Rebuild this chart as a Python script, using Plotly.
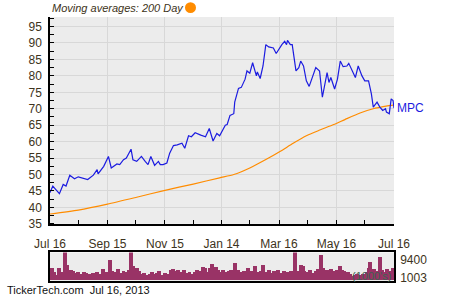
import pandas as pd
import plotly.graph_objects as go

START = pd.Timestamp("2012-07-16")

# Price (day offset from Jul 16 2012, close)
price_day = [0, 3, 6, 10, 14, 17, 21, 26, 30, 35, 40, 46, 50, 51, 57, 62, 65, 71, 74, 78, 81, 86, 88,
             92, 97, 101, 104, 107, 111, 115, 117, 120, 124, 127, 131, 135, 140, 143, 147, 150, 154,
             160, 165, 169, 173, 177, 180, 186, 188, 191, 195, 196, 200, 203, 207, 209, 212, 215,
             219, 220, 223, 226, 229, 232, 237, 240, 243, 246, 249, 251, 252, 255, 257, 261, 264,
             266, 269, 272, 275, 278, 282, 286, 289, 294, 296, 298, 302, 305, 308, 311, 315, 317,
             321, 324, 327, 331, 334, 338, 341, 343, 347, 350, 353, 356, 357, 360, 362, 364, 365]
price_val = [44.5, 46.5, 45.5, 44.2, 47.0, 46.5, 49.8, 48.7, 49.3, 48.8, 48.5, 49.8, 51.5, 50.2, 52.5,
             55.5, 52.0, 53.2, 53.0, 54.5, 55.0, 57.7, 54.5, 54.0, 55.5, 54.0, 53.0, 55.5, 52.8, 54.0,
             53.0, 53.0, 53.5, 56.5, 58.8, 59.0, 59.5, 58.0, 61.8, 61.5, 62.7, 62.0, 61.5, 64.0, 60.2,
             62.5, 61.8, 65.0, 65.2, 68.0, 68.5, 72.0, 76.2, 76.5, 79.0, 81.5, 80.8, 84.0, 80.0, 81.2,
             79.2, 83.0, 89.5, 88.8, 88.5, 86.8, 88.2, 89.5, 90.5, 89.5, 90.8, 89.5, 89.5, 81.5, 82.5,
             84.5, 83.0, 78.5, 76.8, 79.5, 82.5, 81.5, 73.5, 81.0, 78.0, 79.5, 76.0, 79.0, 84.5, 82.8,
             83.0, 83.8, 81.5, 79.5, 83.0, 80.0, 78.5, 78.5, 74.5, 70.5, 72.0, 70.5, 69.5, 70.0, 69.0,
             68.5, 73.0, 72.5, 70.2]

# 200-day moving average
ma_day = [0, 30, 61, 92, 122, 152, 180, 195, 212, 230, 244, 258, 272, 287, 301, 315, 329, 343, 361, 365]
ma_val = [38.0, 39.2, 41.0, 43.1, 45.2, 47.1, 49.0, 50.0, 52.0, 54.7, 57.0, 59.5, 61.8, 63.6, 65.2,
          67.0, 68.7, 70.0, 71.0, 71.2]

# Volume (thousands), one bar per two trading days
volume = [4500, 5400, 3600, 2200, 5400, 3600, 12800, 6700, 4500, 4000, 3100, 3600, 2700, 3600, 3100,
          2700, 2200, 3100, 3600, 2700, 4900, 3100, 3600, 9000, 4000, 3600, 4900, 3100, 4000, 3600,
          4500, 12800, 6300, 5400, 4000, 2700, 3100, 2200, 2700, 3600, 2700, 3100, 4000, 2200, 3100,
          2700, 4500, 4900, 4000, 4500, 3600, 4500, 3100, 3600, 2700, 3600, 4500, 4000, 5800, 5400,
          3600, 5400, 7200, 5800, 4500, 3600, 4500, 3600, 4000, 4500, 7600, 4000, 4500, 3600, 4000,
          5400, 3600, 4000, 6300, 3600, 4000, 6700, 3600, 4500, 3100, 4000, 3600, 4500, 3100, 4000,
          3600, 3100, 4000, 12800, 4000, 6700, 6300, 4000, 3600, 4500, 3100, 4000, 4900, 11200, 5400,
          4500, 4000, 4900, 4000, 4500, 6300, 4500, 4000, 3600, 2700, 1800, 2200, 2700, 2200, 2700,
          3600, 5400, 8100, 4900, 4000, 10300, 4500, 3600, 4900, 4000, 5400]

x_tick_dates = ["2012-07-16", "2012-09-15", "2012-11-15", "2013-01-14", "2013-03-16", "2013-05-16", "2013-07-16"]
x_tick_text = ["Jul 16", "Sep 15", "Nov 15", "Jan 14", "Mar 16", "May 16", "Jul 16"]
y_ticks = [35, 40, 45, 50, 55, 60, 65, 70, 75, 80, 85, 90, 95]
vol_ticks = [1003, 9400]

price_x = [START + pd.Timedelta(days=d) for d in price_day]
ma_x = [START + pd.Timedelta(days=d) for d in ma_day]
vol_x = list(pd.bdate_range("2012-07-16", "2013-07-16")[::2])[:len(volume)]

TXT = "#3d3320"
FONT = "Liberation Sans, Arial, sans-serif"

fig = go.Figure()
fig.add_trace(go.Scatter(x=ma_x, y=ma_val, mode="lines", line=dict(color="#ff8c00", width=1.2, shape="spline", smoothing=0.6),
                         xaxis="x", yaxis="y", hoverinfo="skip"))
fig.add_trace(go.Scatter(x=price_x, y=price_val, mode="lines", line=dict(color="#1c1ce0", width=1.2),
                         xaxis="x", yaxis="y", hoverinfo="skip"))
fig.add_trace(go.Bar(x=vol_x, y=volume, marker=dict(color="#993366", line=dict(width=0)),
                     width=4.2 * 86400000, xaxis="x2", yaxis="y2", hoverinfo="skip"))

xr = ["2012-07-16", "2013-07-16"]
minor_x = [START + pd.Timedelta(days=d) for d in [30, 91, 152, 212, 273, 334]]

fig.update_layout(
    width=450, height=300,
    margin=dict(l=50, r=56, t=17, b=15),
    paper_bgcolor="white", plot_bgcolor="#ececec",
    showlegend=False, bargap=0,
    font=dict(family=FONT, size=12, color=TXT),
    xaxis=dict(type="date", range=xr, domain=[0, 1], anchor="y",
               tickvals=x_tick_dates, ticktext=x_tick_text,
               ticks="inside", ticklen=4, tickcolor="black",
               showgrid=True, gridcolor="#d8d8d8", gridwidth=1,
               showline=True, linecolor="black", linewidth=1.5,
               tickfont=dict(size=12, color=TXT), ticklabelstandoff=8,
               minor=dict(tickvals=minor_x, ticks="inside", ticklen=4, tickcolor="black", showgrid=False),
               zeroline=False),
    yaxis=dict(range=[35, 97.9], domain=[0.2164, 1], anchor="x",
               tickvals=y_ticks, ticks="", showgrid=True, gridcolor="#d8d8d8", gridwidth=1,
               showline=True, linecolor="black", linewidth=1.5,
               tickfont=dict(size=12, color=TXT), ticklabelstandoff=4,
               minor=dict(dtick=2.5, tick0=35, ticks="inside", ticklen=4, tickcolor="black", showgrid=False),
               zeroline=False),
    xaxis2=dict(type="date", range=xr, domain=[0, 1], anchor="y2", matches="x",
                showticklabels=False, ticks="", showgrid=False,
                showline=True, linecolor="black", linewidth=1.5, mirror=True, zeroline=False),
    yaxis2=dict(range=[-300, 12800], domain=[0, 0.108], anchor="x2", side="right",
                tickvals=vol_ticks, ticktext=["1003", "9400"], ticks="", showgrid=False,
                showline=True, linecolor="black", linewidth=1.5, mirror=True, zeroline=False,
                tickfont=dict(size=12, color=TXT), ticklabelstandoff=2),
)

fig.add_annotation(text="<i>Moving averages: 200 Day</i>", xref="paper", yref="paper",
                   x=0.0, y=1.0336, xanchor="left", yanchor="middle", showarrow=False,
                   font=dict(size=11, color=TXT, family=FONT))
fig.add_shape(type="circle", xref="paper", yref="paper",
              x0=0.3924, x1=0.4244, y0=1.0149, y1=1.056,
              fillcolor="#ff8c00", line=dict(color="#ff8c00", width=0), layer="above")
fig.add_annotation(text="MPC", xref="paper", yref="y", x=1.0, y=price_val[-1], xanchor="left",
                   yanchor="middle", showarrow=False, xshift=1,
                   font=dict(size=12, color="#1c1ce0", family=FONT))
fig.add_annotation(text="(1000's)", xref="paper", yref="paper", x=0.998, y=0.02,
                   xanchor="right", yanchor="middle", showarrow=False,
                   font=dict(size=11, color="#3c6450", family=FONT))
fig.add_annotation(text="TickerTech.com  Jul 16, 2013", xref="paper", yref="paper",
                   x=-0.131, y=-0.034, xanchor="left", yanchor="middle", showarrow=False,
                   font=dict(size=11, color="#111111", family=FONT))

fig.write_html("out.html")
